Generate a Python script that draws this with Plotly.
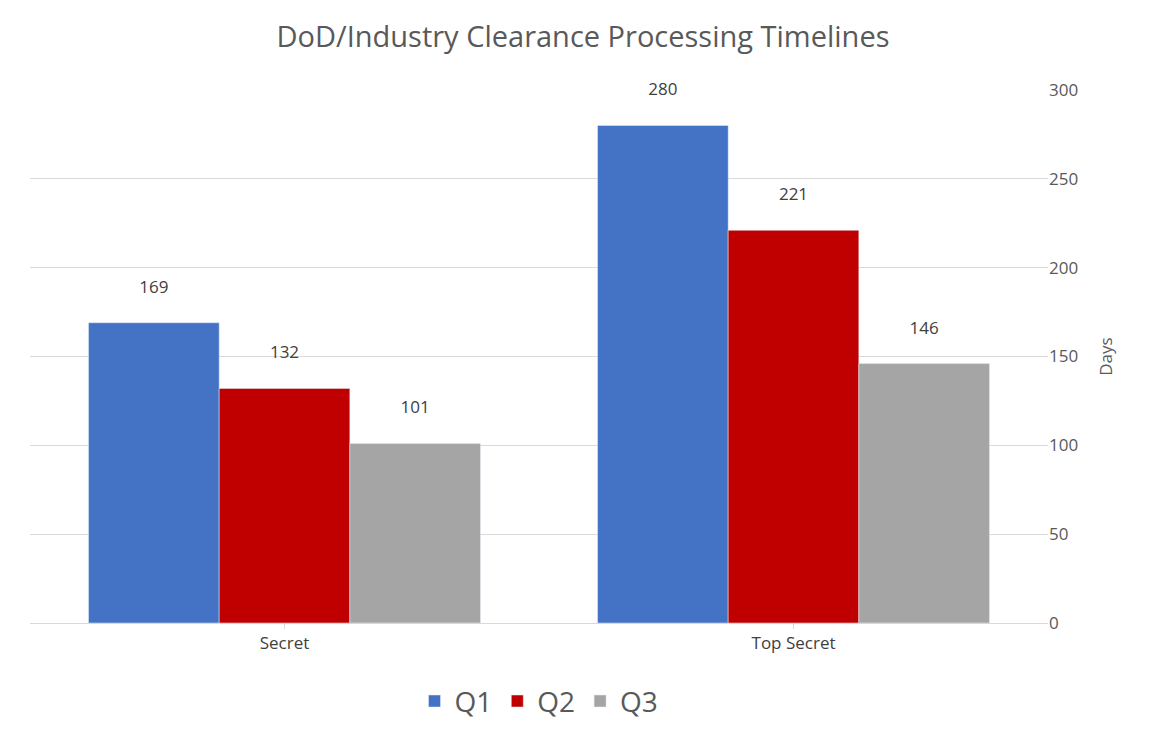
import plotly.graph_objects as go

categories = ["Secret", "Top Secret"]
q1 = [169, 280]
q2 = [132, 221]
q3 = [101, 146]
series = [("Q1", q1, "#4472C4"), ("Q2", q2, "#C00000"), ("Q3", q3, "#A5A5A5")]

fig = go.Figure()
for name, vals, color in series:
    fig.add_bar(x=categories, y=vals, name=name, marker_color=color,
                text=[f"{v}<br> " for v in vals], textposition="outside", cliponaxis=False,
                textfont=dict(size=17, color="#404040"))

fig.update_layout(
    width=1150, height=732,
    paper_bgcolor="white", plot_bgcolor="white",
    font=dict(family="Open Sans, DejaVu Sans", color="#595959"),
    title=dict(text="DoD/Industry Clearance Processing Timelines", x=0.5, y=0.975,
               xanchor="center", font=dict(size=29, color="#595959")),
    margin=dict(l=22, r=110, t=82, b=117),
    barmode="group", bargap=0.23, bargroupgap=0,
    legend=dict(orientation="h", x=0.5, xanchor="center", y=-0.1, yanchor="top",
                font=dict(size=28, color="#595959")),
    xaxis=dict(showline=True, linecolor="#D9D9D9", ticks="outside", tickcolor="#D9D9D9",
               tickfont=dict(size=17, color="#404040")),
    yaxis=dict(side="right", range=[0, 300], dtick=50, gridcolor="#D9D9D9",
               tickfont=dict(size=17, color="#595959"), zeroline=False,
               title=dict(text="Days", font=dict(size=17, color="#595959"), standoff=22)),
)
fig.write_html("out.html")
